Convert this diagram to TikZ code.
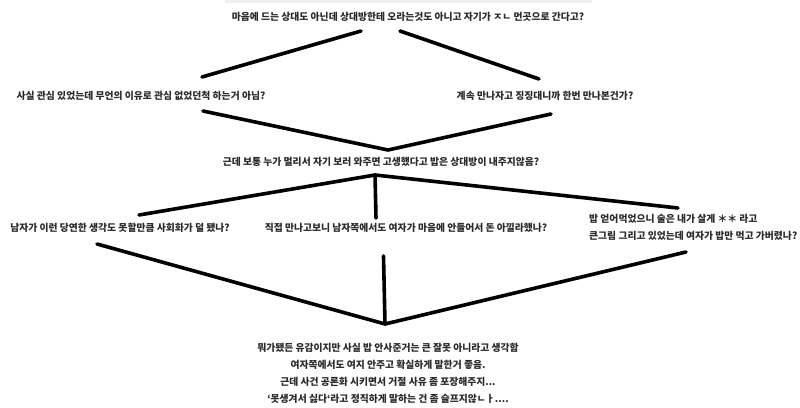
\documentclass[tikz,border=0pt]{standalone}
\usepackage{fontspec}
\setmainfont{Noto Sans CJK KR}
\definecolor{txt}{HTML}{2A2A2A}
\tikzset{
  lbl/.style={inner sep=0pt, font=\fontsize{9.8}{17}\selectfont\bfseries, text=txt},
  conn/.style={line width=3.6pt, black, line cap=round, line join=round}
}
\begin{document}
\begin{tikzpicture}[x=1pt,y=-1pt]
\useasboundingbox (0,0) rectangle (800,407);
\fill[white] (0,0) rectangle (800,407);
\fill[gray!12] (225,0) rectangle (592,3);
% texts
\node[lbl] (top) at (408,17) {마음에 드는 상대도 아닌데 상대방한테 오라는것도 아니고 자기가 ㅈㄴ 먼곳으로 간다고?};
\node[lbl] (l1) at (141,96) {사실 관심 있었는데 무언의 이유로 관심 없었던척 하는거 아님?};
\node[lbl] (r1) at (545,96) {계속 만나자고 징징대니까 한번 만나본건가?};
\node[lbl] (mid) at (381,162) {근데 보통 누가 멀리서 자기 보러 와주면 고생했다고 밥은 상대방이 내주지않음?};
\node[lbl] (l2) at (120,228) {남자가 이런 당연한 생각도 못할만큼 사회화가 덜 됐나?};
\node[lbl] (c2) at (406,228) {직접 만나고보니 남자쪽에서도 여자가 마음에 안들어서 돈 아낄라했나?};
\node[lbl, align=left, anchor=west] (r2) at (589,227.5) {밥 얻어먹었으니 술은 내가 살게 ＊＊ 라고\\큰그림 그리고 있었는데 여자가 밥만 먹고 가버렸나?};
\node[lbl, align=center] (bot) at (388,373) {뭐가됐든 유감이지만 사실 밥 안사준거는 큰 잘못 아니라고 생각함\\여자쪽에서도 여지 안주고 확실하게 말한거 좋음.\\근데 사건 공론화 시키면서 거절 사유 좀 포장해주지...\\\char`\`못생겨서 싫다\char`\`라고 정직하게 말하는 건 좀 슬프지않ㄴㅏ....};
% connector end points
\coordinate (t1) at (361,31);
\coordinate (t2) at (400,31);
\coordinate (a1) at (202,77);
\coordinate (a2) at (539,79);
\coordinate (b1) at (203,111);
\coordinate (b2) at (551,114);
\coordinate (v1) at (388,150);
\coordinate (m0) at (375,175);
\coordinate (m1) at (139,215);
\coordinate (m2) at (376,218);
\coordinate (m3) at (678,208);
\coordinate (n1) at (97,244);
\coordinate (n2) at (383.5,256);
\coordinate (n3) at (686,252);
\coordinate (v2) at (385,324);
% connectors
\draw[conn] (t1) -- (a1);
\draw[conn] (t2) -- (a2);
\draw[conn] (b1) -- (v1) -- (b2);
\draw[conn] (m1) -- (m0) -- (m3);
\draw[conn] (m0) -- (m2);
\draw[conn] (n1) -- (v2) -- (n3);
\draw[conn] (n2) -- (v2);
\end{tikzpicture}
\end{document}
